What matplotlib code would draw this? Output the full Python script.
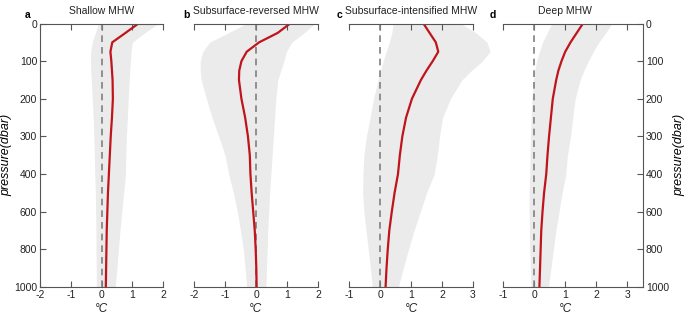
import numpy as np
import matplotlib

matplotlib.use("Agg")
import matplotlib.pyplot as plt

plt.rcParams["font.family"] = ["Liberation Sans", "DejaVu Sans"]
plt.rcParams["axes.unicode_minus"] = False

# pressure levels (dbar) shared by all profiles
pressure = [0, 25, 50, 75, 100, 125, 150, 200, 250, 300, 350, 400, 500, 600, 700, 800, 900, 1000]

# a: shallow MHW
a_mean = [1.2, 0.78, 0.35, 0.29, 0.32, 0.34, 0.36, 0.37, 0.34, 0.30, 0.27, 0.24, 0.21, 0.19, 0.17, 0.16, 0.15, 0.14]
a_lo = [-0.1, -0.2, -0.3, -0.35, -0.36, -0.35, -0.33, -0.3, -0.27, -0.25, -0.23, -0.22, -0.2, -0.19, -0.18, -0.18, -0.17, -0.17]
a_hi = [1.85, 1.4, 1.0, 0.96, 0.94, 0.92, 0.9, 0.87, 0.84, 0.81, 0.79, 0.78, 0.72, 0.66, 0.6, 0.55, 0.5, 0.45]

# b: subsurface-reversed MHW
b_mean = [1.1, 0.7, 0.1, -0.3, -0.47, -0.54, -0.55, -0.47, -0.35, -0.26, -0.2, -0.18, -0.14, -0.09, -0.04, -0.01, 0.01, 0.02]
b_lo = [-0.3, -0.9, -1.5, -1.72, -1.8, -1.8, -1.77, -1.6, -1.42, -1.2, -1.0, -0.88, -0.73, -0.6, -0.5, -0.41, -0.35, -0.3]
b_hi = [1.9, 1.55, 1.15, 0.98, 0.9, 0.8, 0.7, 0.64, 0.6, 0.56, 0.52, 0.48, 0.44, 0.41, 0.38, 0.36, 0.34, 0.32]

# c: subsurface-intensified MHW
c_mean = [1.4, 1.6, 1.8, 1.88, 1.7, 1.5, 1.32, 1.03, 0.84, 0.72, 0.64, 0.58, 0.47, 0.38, 0.3, 0.25, 0.21, 0.18]
c_lo = [0.43, 0.38, 0.3, 0.2, 0.1, 0.02, -0.06, -0.21, -0.32, -0.44, -0.52, -0.55, -0.56, -0.52, -0.45, -0.38, -0.31, -0.25]
c_hi = [2.6, 3.1, 3.45, 3.55, 3.3, 2.95, 2.64, 2.27, 2.02, 1.92, 1.85, 1.75, 1.5, 1.3, 1.1, 0.92, 0.75, 0.59]

# d: deep MHW
d_mean = [1.57, 1.37, 1.17, 1.0, 0.88, 0.78, 0.71, 0.6, 0.54, 0.48, 0.43, 0.39, 0.32, 0.27, 0.23, 0.21, 0.19, 0.17]
d_lo = [0.57, 0.42, 0.27, 0.17, 0.08, 0.02, -0.02, -0.07, -0.1, -0.12, -0.13, -0.14, -0.16, -0.16, -0.15, -0.14, -0.12, -0.11]
d_hi = [2.5, 2.3, 2.08, 1.9, 1.74, 1.6, 1.48, 1.32, 1.24, 1.17, 1.07, 1.02, 0.9, 0.8, 0.7, 0.62, 0.54, 0.46]

titles = ["Shallow MHW", "Subsurface-reversed MHW", "Subsurface-intensified MHW", "Deep MHW"]
letters = ["a", "b", "c", "d"]
yticks = [0, 100, 200, 300, 400, 600, 800, 1000]

RED = "#c0141c"
SHADE = "#ebebeb"
SPINE = "#555555"


def fwd(p):
    p = np.asarray(p, dtype=float)
    return np.where(p <= 400, p, 400 + (p - 400) / 2)


def inv(z):
    z = np.asarray(z, dtype=float)
    return np.where(z <= 400, z, 400 + (z - 400) * 2)


W, H = 685, 317
ax_top, ax_bot = 23.5, 287
bottom = 1 - ax_bot / H
height = (ax_bot - ax_top) / H
# left px, right px, xlim, xticks
layout = [
    (40, 163, (-2, 2), [-2, -1, 0, 1, 2]),
    (194, 318, (-2, 2), [-2, -1, 0, 1, 2]),
    (349, 473, (-1, 3), [-1, 0, 1, 2, 3]),
    (503, 643, (-1, 3.5), [-1, 0, 1, 2, 3]),
]
panels = [
    (a_mean, a_lo, a_hi),
    (b_mean, b_lo, b_hi),
    (c_mean, c_lo, c_hi),
    (d_mean, d_lo, d_hi),
]
letter_x = [25, 183, 337, 490]

fig = plt.figure(figsize=(W / 100, H / 100), dpi=100)

for i, ((l, r, xlim, xt), (mean, lo, hi)) in enumerate(zip(layout, panels)):
    ax = fig.add_axes([l / W, bottom, (r - l) / W, height])
    ax.set_yscale("function", functions=(fwd, inv))
    # the spread in panel c runs past the right end of its axis
    ax.fill_betweenx(pressure, lo, hi, color=SHADE, lw=0, clip_on=False, zorder=0)
    ax.axvline(0, color="#808080", lw=1.2, ls=(0, (4, 3)))
    ax.plot(mean, pressure, color=RED, lw=1.6)
    ax.set_xlim(*xlim)
    ax.set_ylim(1000, 0)
    ax.set_xticks(xt)
    ax.set_xticklabels([str(v) for v in xt])
    ax.set_yticks(yticks)
    ax.minorticks_off()

    for s in ax.spines.values():
        s.set_color(SPINE)
        s.set_linewidth(0.8)
    ax.tick_params(direction="in", length=4, width=0.8, color=SPINE,
                   labelsize=7.5, labelcolor="#222222", pad=2,
                   top=True, bottom=True, labeltop=False, labelbottom=True)
    ax.spines["left"].set_visible(i == 0)
    ax.spines["right"].set_visible(i == 3)
    if i == 0:
        ax.tick_params(axis="y", left=True, right=False, labelleft=True, labelright=False)
        ax.set_ylabel("pressure(dbar)", fontsize=9, style="italic", labelpad=1)
    elif i == 3:
        ax.tick_params(axis="y", left=False, right=True, labelleft=False, labelright=True)
        ax.yaxis.set_label_position("right")
        ax.set_ylabel("pressure(dbar)", fontsize=9, style="italic", labelpad=3,
                      rotation=90)
    else:
        ax.tick_params(axis="y", left=False, right=False, labelleft=False, labelright=False)

    # title and x label centred on the -1..3 span for panel d
    cx = 0.5 if i < 3 else (1 - xlim[0]) / (xlim[1] - xlim[0])
    ax.text(cx, 1.03, titles[i], transform=ax.transAxes, ha="center", va="bottom",
            fontsize=7.5, color="#222222")
    ax.text(cx, -(309 - ax_bot) / (ax_bot - ax_top), "°C", transform=ax.transAxes,
            ha="center", va="center", fontsize=8.5, style="italic", color="#222222")
    fig.text(letter_x[i] / W, 1 - 15 / H, letters[i], fontsize=7.5,
             fontweight="bold", ha="left", va="center")

fig.savefig("out.png", dpi=100)
